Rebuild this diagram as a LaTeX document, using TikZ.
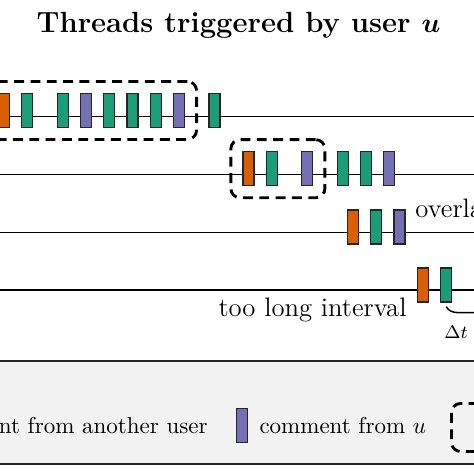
\documentclass[tikz,border=0pt]{standalone}
\usepackage{amsmath,amssymb}
\usepackage{bm}
\usepackage{tikz}
\usetikzlibrary{
	positioning,
	fit,
	decorations.pathreplacing
}
\definecolor{origcol}{HTML}{D95F02}
\definecolor{othercol}{HTML}{1B9E77}
\definecolor{usercol}{HTML}{7570B3}

\begin{document}
\begin{tikzpicture}[
				x=0.4348pt, y=-0.4348pt,
				comment/.style={
					rectangle, draw=black!85, line width=0.55pt,
					inner sep=0pt, minimum width=4.8pt, minimum height=14.7pt
				},
				origbox/.style={
					comment, fill=origcol
				},
				otherbox/.style={
					comment, fill=othercol
				},
				userbox/.style={
					comment, fill=usercol
				},
				thread/.style={line width=0.55pt, black},
				window/.style={
					draw, line width=1.25pt, dash pattern=on 4.3pt off 2.8pt,
					rounded corners=4pt, inner sep=5pt
				},
				note/.style={font=\fontsize{11.6}{14}\selectfont},
				legendtext/.style={font=\fontsize{10}{12}\selectfont}
				]
				\useasboundingbox (0,0) rectangle (474,474);
				
				% title
				\node[font=\fontsize{12.7}{15}\selectfont\bfseries, anchor=base] (title) at (238.5,33) {Threads triggered by user $\bm{u}$};
				
				% thread 1
				\coordinate (l1s) at (-10,116.5);
				\coordinate (l1e) at (484,116.5);
				\draw[thread] (l1s) -- (l1e);
				\node[origbox] (a1) at (4,110.5) {};
				\node[otherbox, right=4.75pt of a1] (a2) {};
				\node[otherbox, right=10.1pt of a2] (a3) {};
				\node[userbox, right=4.75pt of a3] (a4) {};
				\node[otherbox, right=4.75pt of a4] (a5) {};
				\node[otherbox, right=4.75pt of a5] (a6) {};
				\node[otherbox, right=4.75pt of a6] (a7) {};
				\node[userbox, right=4.75pt of a7] (a8) {};
				\node[otherbox, right=10.1pt of a8] (a9) {};
				\node[window, fit=(a1)(a8)] (win1) {};
				
				% thread 2
				\coordinate (l2s) at (-10,174.3);
				\coordinate (l2e) at (484,174.3);
				\draw[thread] (l2s) -- (l2e);
				\node[origbox] (b1) at (248.5,168.7) {};
				\node[otherbox, right=4.75pt of b1] (b2) {};
				\node[userbox, right=10.1pt of b2] (b3) {};
				\node[otherbox, right=10.1pt of b3] (b4) {};
				\node[otherbox, right=4.75pt of b4] (b5) {};
				\node[userbox, right=4.75pt of b5] (b6) {};
				\node[window, fit=(b1)(b3)] (win2) {};
				
				% thread 3
				\coordinate (l3s) at (-10,232.3);
				\coordinate (l3e) at (484,232.3);
				\draw[thread] (l3s) -- (l3e);
				\node[origbox] (c1) at (353,227) {};
				\node[otherbox, right=4.75pt of c1] (c2) {};
				\node[userbox, right=4.75pt of c2] (c3) {};
				\node[note, anchor=base west, inner sep=0pt] (overlap) at (415,218) {overlap};
				
				% thread 4
				\coordinate (l4s) at (-10,290);
				\coordinate (l4e) at (484,290);
				\draw[thread] (l4s) -- (l4e);
				\node[origbox] (d1) at (423,285) {};
				\node[otherbox, right=4.75pt of d1] (d2) {};
				\node[note, anchor=base east, inner sep=0pt] (toolong) at (407,317) {too long interval};
				
				% interval brace
				\coordinate[below=1.8pt of d2] (dtA);
				\coordinate[right=45pt of dtA] (dtB);
				\draw[line width=0.65pt, decorate, decoration={brace, mirror, amplitude=5.2pt}] (dtA) -- (dtB);
				\node[font=\fontsize{8}{10}\selectfont, anchor=base, inner sep=0pt] (dt) at (456,338) {$\Delta t$};
				
				% legend
				\draw[line width=0.65pt, draw=black!85, fill=black!5] (-10,361) rectangle (484,464);
				\node[legendtext, anchor=east] (lgOtext) at (215.7,425.5) {comment from another user};
				\node[userbox] (lgU) at (242,425.5) {};
				\node[legendtext, right=1.4pt of lgU] (lgUtext) {comment from $u$};
				\node[window, anchor=north west, minimum width=30pt, minimum height=20.9pt] (lgWin) at (450,402) {};
			\end{tikzpicture}
\end{document}
